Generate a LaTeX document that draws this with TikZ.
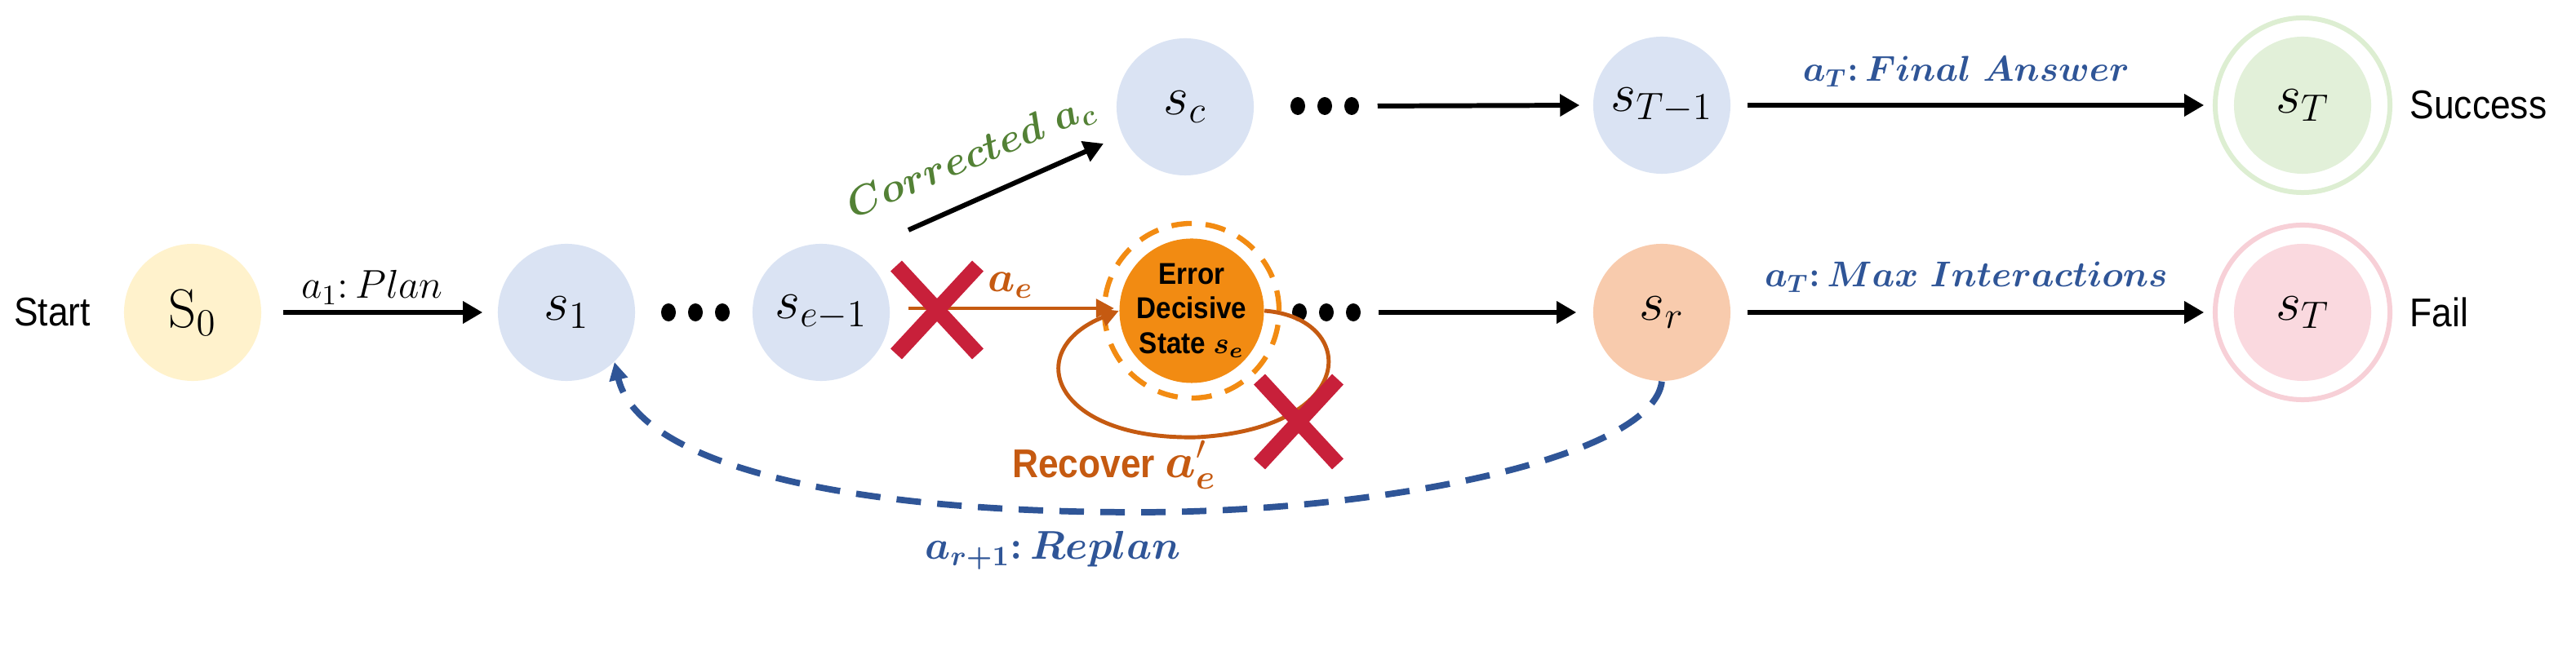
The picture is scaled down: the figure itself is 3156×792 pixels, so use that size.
\documentclass[tikz,border=0pt]{standalone}
\usepackage{fix-cm}
\usepackage{bm}
\usepackage{fontspec}
\newfontfamily\nsans{Liberation Sans}[FakeStretch=0.9]
\usetikzlibrary{arrows.meta,shapes.geometric}
\definecolor{cyel}{HTML}{FFF2CC}
\definecolor{cblue}{HTML}{DAE3F3}
\definecolor{cpeach}{HTML}{F8CBAD}
\definecolor{cgreen}{HTML}{E2F0D9}
\definecolor{cgreenring}{HTML}{DDEED2}
\definecolor{cpink}{HTML}{FAD9DF}
\definecolor{cpinkring}{HTML}{F7D0D7}
\definecolor{corange}{HTML}{F28B12}
\definecolor{cbrown}{HTML}{C55A11}
\definecolor{credx}{HTML}{C8203A}
\definecolor{cbluet}{HTML}{2F5597}
\definecolor{cgreent}{HTML}{538135}
\tikzset{
  stnode/.style={circle, minimum size=1.68cm, inner sep=0pt, font=\fontsize{19}{21}\selectfont},
  sanslbl/.style={font=\nsans\fontsize{14}{16}\selectfont, inner sep=0pt},
  arr/.style={line width=1.7pt, -{Triangle[length=0.24cm,width=0.26cm]}},
  oarr/.style={cbrown, line width=1.4pt, -{Triangle[length=0.22cm,width=0.22cm]}},
  redx/.style={credx, line width=0.19cm},
  bdash/.style={cbluet, line width=2.2pt, dash pattern=on 0.3cm off 0.2cm, -{Triangle[length=0.22cm,width=0.22cm]}},
  dotsbox/.style={minimum width=0.9cm, minimum height=0.2cm, inner sep=0pt},
  mlbl/.style={font=\fontsize{14}{16}\selectfont, inner sep=0pt},
  bluelbl/.style={cbluet, font=\fontsize{12.5}{15}\selectfont\boldmath, inner sep=0pt},
}
\begin{document}
\begin{tikzpicture}[x=0.01cm, y=-0.01cm]
\useasboundingbox (0,0) rectangle (3156,792);

% bottom row
\node[sanslbl] (start) at (64,383) {Start};
\node[stnode, fill=cyel] (s0) at (236,383) {$\mathrm{S}_0$};
\node[stnode, fill=cblue] (s1) at (694,383) {$s_1$};
\node[dotsbox] (d1) at (852,383) {};
\node[stnode, fill=cblue] (se1) at (1006,383) {$s_{e-1}$};
\node[stnode, fill=corange, align=center, font=\nsans\bfseries\fontsize{10.5}{12}\selectfont] (err) at (1460,381) {Error\\Decisive\\State $\bm{s}_{\bm{e}}$};
\draw[corange, line width=1.8pt, dash pattern=on 0.25cm off 0.17cm] (err) circle[radius=1.07cm];
\node[dotsbox] (d2) at (1625,383) {};
\node[stnode, fill=cpeach] (sr) at (2036,383) {$s_r$};
\node[stnode, fill=cpink] (stf) at (2821,383) {$s_T$};
\draw[cpinkring, line width=0.06cm] (stf) circle[radius=1.07cm];
\node[sanslbl, anchor=west] (fail) at (2952,383) {Fail};

% top row
\node[stnode, fill=cblue] (sc) at (1452,131) {$s_c$};
\node[dotsbox] (d3) at (1623,130) {};
\node[stnode, fill=cblue] (st1) at (2036,129) {$s_{T-1}$};
\node[stnode, fill=cgreen] (sts) at (2821,129) {$s_T$};
\draw[cgreenring, line width=0.06cm] (sts) circle[radius=1.07cm];
\node[sanslbl, anchor=west] (succ) at (2952,129) {Success};

% dots
\foreach \n in {d1,d2,d3}{
  \foreach \dx in {-33,0,33}{
    \fill ([xshift=\dx*0.01cm]\n.center) ellipse [x radius=0.09cm, y radius=0.11cm];
  }
}

% arrows
\draw[arr, shorten <=0.26cm, shorten >=0.18cm] (s0.east) -- (s1.west);
\node[mlbl, anchor=base] (l1) at (456,366) {$a_1{:}\,Plan$};

\draw[arr, shorten <=0.19cm, shorten >=0.16cm] (d3.east) -- (st1.west);
\draw[arr, shorten <=0.2cm, shorten >=0.36cm] (st1.east) -- (sts.west);
\node[bluelbl, anchor=base] (lfa) at (2409,100) {$a_T{:}\,Final\ Answer$};

\draw[arr, shorten <=0.18cm, shorten >=0.2cm] (d2.east) -- (sr.west);
\draw[arr, shorten <=0.2cm, shorten >=0.36cm] (sr.east) -- (stf.west);
\node[bluelbl, anchor=base] (lmi) at (2409,352) {$a_T{:}\,Max\ Interactions$};

% corrected
\coordinate (cs) at (1113,282);
\coordinate (ce) at (1352,176);
\draw[arr] (cs) -- (ce);
\node[cgreent, rotate=23, font=\fontsize{14}{16}\selectfont\boldmath, inner sep=0pt] (lc) at (1190,193) {$Corrected\ a_c$};

% error action
\coordinate (aes) at (1113,378);
\coordinate (aee) at (1365,378);
\draw[oarr] (aes) -- (aee);
\node[cbrown, font=\fontsize{15}{17}\selectfont\boldmath, inner sep=0pt] (lae) at (1238,350) {$a_e$};

% loop
\draw[oarr] (err.east) .. controls (1665,390) and (1665,525) .. (1467,536)
  .. controls (1290,540) and (1250,430) .. (err.west);
\node[cbrown, font=\nsans\bfseries\fontsize{14}{16}\selectfont, inner sep=0pt] (lrec) at (1365,570) {Recover {\fontsize{17}{19}\selectfont$\bm{a}'_{\bm{e}}$}};

% red crosses
\draw[redx] (1148,380) ++(-50,-54) -- ++(100,108);
\draw[redx] (1148,380) ++(50,-54) -- ++(-100,108);
\draw[redx] (1591,517) ++(-48,-52) -- ++(96,104);
\draw[redx] (1591,517) ++(48,-52) -- ++(-96,104);

% replan
\draw[bdash] (sr.south) .. controls (2025,560) and (1700,628) .. (1394,628)
  .. controls (1000,628) and (780,560) .. (s1.-46);
\node[bluelbl, font=\fontsize{14}{16}\selectfont\boldmath] (lrp) at (1290,675) {$a_{r+1}{:}\,Replan$};
\end{tikzpicture}
\end{document}
